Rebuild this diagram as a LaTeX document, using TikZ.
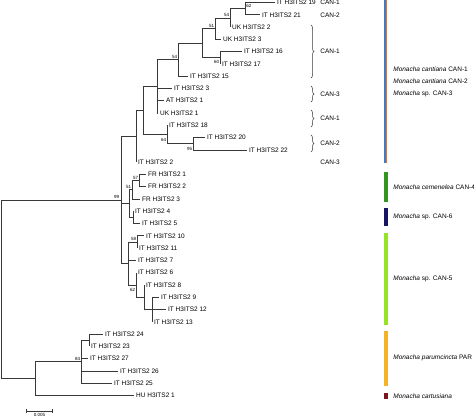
\documentclass[tikz,border=0pt]{standalone}
\usepackage{fontspec}
\setmainfont{Liberation Sans}
\usepackage{xcolor}
\usetikzlibrary{arrows.meta,arrows}
\usetikzlibrary{positioning,calc,decorations.pathreplacing}

\definecolor{canblue}{RGB}{70,120,190}
\definecolor{canorange}{RGB}{232,112,52}
\definecolor{cangreen}{RGB}{52,148,32}
\definecolor{cannavy}{RGB}{22,22,98}
\definecolor{canlime}{RGB}{150,228,40}
\definecolor{paramber}{RGB}{245,180,40}
\definecolor{cartred}{RGB}{125,20,30}

\begin{document}
\begin{tikzpicture}[
            x = 1pt, y = -1pt, % pixel units, y pointing down
            line width = 0.7pt, % branch width
            branch/.style = {to path = {|- (\tikztotarget)}}, % rectangular branch
            brace/.style = {decorate, decoration = {brace, amplitude = 3pt}, line width = 0.5pt}
        ]

        \tikzstyle{leaf}=[
            anchor = west,
            inner xsep = 1.8pt,
            inner ysep = 1pt,
            font = \fontsize{6.5}{7}\selectfont
        ]
        \tikzstyle{boot}=[
            inner sep = 0.6pt,
            font = \fontsize{4.5}{5}\selectfont
        ]
        \tikzstyle{clade}=[
            anchor = west,
            inner sep = 1pt,
            font = \fontsize{6.5}{7}\selectfont
        ]
        \tikzstyle{species}=[clade]

        \useasboundingbox (0,0) rectangle (474,419);

        % Leaves
        \node[leaf] (it19) [at={(275,2.5)}] {IT H3ITS2 19};
        \node[leaf] (it21) [at={(260,14.8)}] {IT H3ITS2 21};
        \node[leaf] (uk2) [at={(230,27.1)}] {UK H3ITS2 2};
        \node[leaf] (uk3) [at={(221,39.3)}] {UK H3ITS2 3};
        \node[leaf] (it16) [at={(242,51.6)}] {IT H3ITS2 16};
        \node[leaf] (it17) [at={(220,63.9)}] {IT H3ITS2 17};
        \node[leaf] (it15) [at={(188,76.2)}] {IT H3ITS2 15};
        \node[leaf] (it3) [at={(172,88.5)}] {IT H3ITS2 3};
        \node[leaf] (at1) [at={(164,100.7)}] {AT H3ITS2 1};
        \node[leaf] (uk1) [at={(158,113.0)}] {UK H3ITS2 1};
        \node[leaf] (it18) [at={(167,125.3)}] {IT H3ITS2 18};
        \node[leaf] (it20) [at={(205,137.6)}] {IT H3ITS2 20};
        \node[leaf] (it22) [at={(247,149.9)}] {IT H3ITS2 22};
        \node[leaf] (it2) [at={(136,162.1)}] {IT H3ITS2 2};
        \node[leaf] (fr1) [at={(146,174.4)}] {FR H3ITS2 1};
        \node[leaf] (fr2) [at={(146,186.7)}] {FR H3ITS2 2};
        \node[leaf] (fr3) [at={(140,199.0)}] {FR H3ITS2 3};
        \node[leaf] (it4) [at={(133,211.3)}] {IT H3ITS2 4};
        \node[leaf] (it5) [at={(140,223.5)}] {IT H3ITS2 5};
        \node[leaf] (it10) [at={(144,235.8)}] {IT H3ITS2 10};
        \node[leaf] (it11) [at={(137,248.1)}] {IT H3ITS2 11};
        \node[leaf] (it7) [at={(136,260.4)}] {IT H3ITS2 7};
        \node[leaf] (it6) [at={(136,272.7)}] {IT H3ITS2 6};
        \node[leaf] (it8) [at={(144,284.9)}] {IT H3ITS2 8};
        \node[leaf] (it9) [at={(159,297.2)}] {IT H3ITS2 9};
        \node[leaf] (it12) [at={(166,309.5)}] {IT H3ITS2 12};
        \node[leaf] (it13) [at={(152,321.8)}] {IT H3ITS2 13};
        \node[leaf] (it24) [at={(103,334.1)}] {IT H3ITS2 24};
        \node[leaf] (it23) [at={(89,346.3)}] {IT H3ITS2 23};
        \node[leaf] (it27) [at={(88,358.6)}] {IT H3ITS2 27};
        \node[leaf] (it26) [at={(118,370.9)}] {IT H3ITS2 26};
        \node[leaf] (it25) [at={(112,383.2)}] {IT H3ITS2 25};
        \node[leaf] (hu1) [at={(134,395.5)}] {HU H3ITS2 1};

        % Inner nodes
        \coordinate (b62) at (245,8.65);
        \coordinate (b54b) at (230,17.9);
        \coordinate (b51) at (215,28.6);
        \coordinate (b60) at (220,57.75);
        \coordinate (x1) at (202,43.2);
        \coordinate (b54a) at (178,59.7);
        \coordinate (p1) at (157,86.35);
        \coordinate (b95) at (193,143.75);
        \coordinate (b64) at (167,134.5);
        \coordinate (p2) at (143,110.4);
        \coordinate (p3) at (136,136.3);
        \coordinate (b57) at (139,180.55);
        \coordinate (b51b) at (132,189.8);
        \coordinate (p4) at (133,217.4);
        \coordinate (p5) at (129,203.6);
        \coordinate (b58) at (137,241.95);
        \coordinate (p6) at (152,309.5);
        \coordinate (p7) at (144,297.2);
        \coordinate (b62b) at (136,284.95);
        \coordinate (p8) at (128,263.45);
        \coordinate (b99) at (121,199.9);
        \coordinate (p9) at (89,340.2);
        \coordinate (b84) at (81,361.7);
        \coordinate (p10) at (35,378.6);
        \coordinate (root) at (1,289.25);

        % Branches
        \path[draw = black!78] (b62) edge[branch] (it19) edge[branch] (it21);
        \path[draw = black!78] (b54b) edge[branch] (b62) edge[branch] (uk2);
        \path[draw = black!78] (b51) edge[branch] (b54b) edge[branch] (uk3);
        \path[draw = black!78] (b60) edge[branch] (it16) edge[branch] (it17);
        \path[draw = black!78] (x1) edge[branch] (b51) edge[branch] (b60);
        \path[draw = black!78] (b54a) edge[branch] (x1) edge[branch] (it15);
        \path[draw = black!78] (p1) edge[branch] (b54a) edge[branch] (it3) edge[branch] (at1) edge[branch] (uk1);
        \path[draw = black!78] (b95) edge[branch] (it20) edge[branch] (it22);
        \path[draw = black!78] (b64) edge[branch] (it18) edge[branch] (b95);
        \path[draw = black!78] (p2) edge[branch] (p1) edge[branch] (b64);
        \path[draw = black!78] (p3) edge[branch] (p2) edge[branch] (it2);
        \path[draw = black!78] (b57) edge[branch] (fr1) edge[branch] (fr2);
        \path[draw = black!78] (b51b) edge[branch] (b57) edge[branch] (fr3);
        \path[draw = black!78] (p4) edge[branch] (it4) edge[branch] (it5);
        \path[draw = black!78] (p5) edge[branch] (b51b) edge[branch] (p4);
        \path[draw = black!78] (b58) edge[branch] (it10) edge[branch] (it11);
        \path[draw = black!78] (p6) edge[branch] (it9) edge[branch] (it12) edge[branch] (it13);
        \path[draw = black!78] (p7) edge[branch] (it8) edge[branch] (p6);
        \path[draw = black!78] (b62b) edge[branch] (it6) edge[branch] (p7);
        \path[draw = black!78] (p8) edge[branch] (b58) edge[branch] (it7) edge[branch] (b62b);
        \path[draw = black!78] (b99) edge[branch] (p3) edge[branch] (p5) edge[branch] (p8);
        \path[draw = black!78] (p9) edge[branch] (it24) edge[branch] (it23);
        \path[draw = black!78] (b84) edge[branch] (p9) edge[branch] (it27) edge[branch] (it26) edge[branch] (it25);
        \path[draw = black!78] (p10) edge[branch] (b84) edge[branch] (hu1);
        \path[draw = black!78] (root) edge[branch] (b99) edge[branch] (p10);

        % Bootstrap values
        \node[boot, anchor = south west, xshift = 0.3pt] (l62) at (b62) {62};
        \node[boot, anchor = south east, yshift = 0.4pt] (l54b) at (b54b) {54};
        \node[boot, anchor = south east, yshift = 0.4pt] (l51) at (b51) {51};
        \node[boot, anchor = north east, yshift = -1.5pt] (l60) at (b60) {60};
        \node[boot, anchor = south east, yshift = 0.4pt] (l54a) at (b54a) {54};
        \node[boot, anchor = north east, yshift = -2.5pt] (l64) at (b64) {64};
        \node[boot, anchor = north east, yshift = -3pt] (l95) at (b95) {95};
        \node[boot, anchor = south east, yshift = 0.4pt] (l57) at (b57) {57};
        \node[boot, anchor = south east, yshift = 0.4pt] (l51b) at (b51b) {51};
        \node[boot, anchor = south east, yshift = 0.4pt] (l58) at (b58) {58};
        \node[boot, anchor = north east, yshift = -2.5pt] (l62b) at (b62b) {62};
        \node[boot, anchor = south east, xshift = -1pt, yshift = 0.4pt] (l99) at (b99) {99};
        \node[boot, anchor = south east, yshift = 0.4pt] (l84) at (b84) {84};

        % Clades
        \coordinate (br1a) at (311,25);
        \coordinate (br1b) at (311,78);
        \coordinate (br2a) at (311,86);
        \coordinate (br2b) at (311,102);
        \coordinate (br3a) at (311,110);
        \coordinate (br3b) at (311,127);
        \coordinate (br4a) at (311,135);
        \coordinate (br4b) at (311,152);
        \draw[brace, draw = black!78] (br1a) -- (br1b);
        \draw[brace, draw = black!78] (br2a) -- (br2b);
        \draw[brace, draw = black!78] (br3a) -- (br3b);
        \draw[brace, draw = black!78] (br4a) -- (br4b);
        \node[clade] (cl1) [at={(319,2.5)}] {CAN-1};
        \node[clade] (cl2) [at={(319,14.8)}] {CAN-2};
        \node[clade] (cl3) [at={(319,51.5)}] {CAN-1};
        \node[clade] (cl4) [at={(319,94)}] {CAN-3};
        \node[clade] (cl5) [at={(319,118.5)}] {CAN-1};
        \node[clade] (cl6) [at={(319,143.5)}] {CAN-2};
        \node[clade] (cl7) [at={(319,162.1)}] {CAN-3};

        % Species bars
        \fill[canblue] (384,0) rectangle (385.5,163);
        \fill[canorange] (385.8,0) rectangle (387.4,163);
        \fill[cangreen] (384,172) rectangle (388,202);
        \fill[cannavy] (384,208) rectangle (388,226);
        \fill[canlime] (384,233) rectangle (388,325);
        \fill[paramber] (384,331) rectangle (388,386);
        \fill[cartred] (384,393) rectangle (388,399);
        \node[species] (sp1) [at={(392,69)}] {\textit{Monacha cantiana} CAN-1};
        \node[species] (sp2) [at={(392,81.5)}] {\textit{Monacha cantiana} CAN-2};
        \node[species] (sp3) [at={(392,94)}] {\textit{Monacha} sp. CAN-3};
        \node[species] (sp4) [at={(392,187)}] {\textit{Monacha cemenelea} CAN-4};
        \node[species] (sp5) [at={(392,217)}] {\textit{Monacha} sp. CAN-6};
        \node[species] (sp6) [at={(392,279)}] {\textit{Monacha} sp. CAN-5};
        \node[species] (sp7) [at={(392,358)}] {\textit{Monacha parumcincta} PAR};
        \node[species] (sp8) [at={(392,396)}] {\textit{Monacha cartusiana}};

        % Scale
        \coordinate (sb1) at (26,411);
        \coordinate (sb2) at (53,411);
        \draw[draw = black!78, line width = 0.6pt, {Bar[width=3.5pt]}-{Bar[width=3.5pt]}] (sb1) -- node[boot, below = 1pt] (sbl) {0.005} (sb2);
      \end{tikzpicture}
\end{document}
